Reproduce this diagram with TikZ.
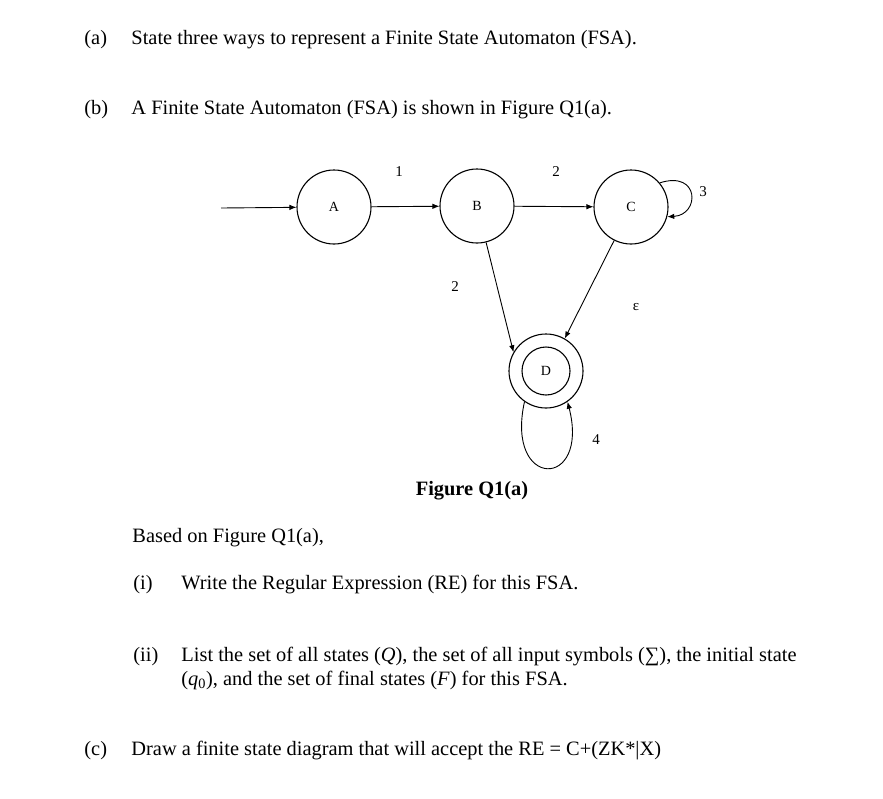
\documentclass[tikz,border=0pt]{standalone}
\usepackage{fontspec}
\setmainfont{Liberation Serif}
\usetikzlibrary{arrows.meta}
\begin{document}
\begin{tikzpicture}[x=1pt,y=-1pt,line width=0.9pt,
  txt/.style={anchor=west,inner sep=0pt,font=\fontsize{20.4}{24}\selectfont},
  st/.style={circle,draw,line width=1.1pt,minimum size=74pt,inner sep=0pt,font=\fontsize{14}{16}\selectfont},
  lbl/.style={inner sep=0pt,font=\fontsize{15}{17}\selectfont},
  ed/.style={-{Latex[length=7pt,width=5.5pt]}}]
\useasboundingbox (0,0) rectangle (883,798);
\node[txt] (ta) at (84,40) {(a)};
\node[txt] (tat) at (131,40) {State three ways to represent a Finite State Automaton (FSA).};
\node[txt] (tb) at (84,110) {(b)};
\node[txt] (tbt) at (131,110) {A Finite State Automaton (FSA) is shown in Figure Q1(a).};
\node[st] (A) at (334,207) {A};
\node[st] (B) at (477,206) {B};
\node[st] (C) at (631,207) {C};
\node[st] (D) at (546,371) {D};
\node[circle,draw,line width=1.1pt,minimum size=48pt] (Din) at (546,371) {};
\coordinate (s) at (221,208);
\draw[ed] (s) -- (A);
\draw[ed] (A) -- (B);
\draw[ed] (B) -- (C);
\draw[ed] (B) -- (D.150);
\draw[ed] (C) -- (D.60);
\draw[ed] (C.40) .. controls (700,170) and (700,215) .. (C.-15);
\draw[ed] (D.-125) .. controls (505,490) and (590,490) .. (D.-55);
\node[lbl] (l1) at (399,172) {1};
\node[lbl] (l2) at (556,172) {2};
\node[lbl] (l3) at (703,192) {3};
\node[lbl] (l4) at (455,287) {2};
\node[lbl] (l5) at (636,307) {ε};
\node[lbl] (l6) at (596,440) {4};
\node[inner sep=0pt,font=\fontsize{20.4}{24}\selectfont\bfseries] (cap) at (472,491) {Figure Q1(a)};
\node[txt] (t1) at (132,538) {Based on Figure Q1(a),};
\node[txt] (t2) at (133,585) {(i)};
\node[txt] (t3) at (181,585) {Write the Regular Expression (RE) for this FSA.};
\node[txt] (t4) at (133,657) {(ii)};
\node[txt] (t5) at (181,657) {List the set of all states (\textit{Q}), the set of all input symbols (∑), the initial state};
\node[txt] (t6) at (181,680) {(\textit{q}\textsubscript{0}), and the set of final states (\textit{F}) for this FSA.};
\node[txt] (tc) at (84,751) {(c)};
\node[txt] (tct) at (131,751) {Draw a finite state diagram that will accept the RE = C+(ZK*|X)};
\end{tikzpicture}
\end{document}
